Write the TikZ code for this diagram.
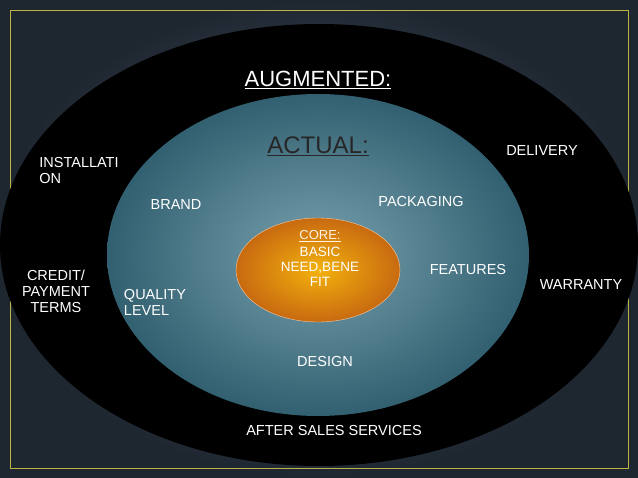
\documentclass[tikz,border=0pt]{standalone}
\usepackage{fontspec}
\setmainfont{Liberation Sans}
\usetikzlibrary{positioning}
\definecolor{slateBg}{RGB}{92, 108, 124}
\definecolor{slateDark}{RGB}{30, 38, 48}
\definecolor{frameGold}{RGB}{190, 180, 70}
\definecolor{tealMid}{RGB}{62, 120, 140}
\definecolor{coreOrange}{RGB}{235, 125, 20}

\begin{document}
\begin{tikzpicture}[
        x=1pt, y=-1pt,
        lbl/.style={text=white, font=\fontsize{14.5}{16}\selectfont, align=center},
        head/.style={text=black!85, font=\fontsize{22}{24}\selectfont}
    ]
        % Background
        \useasboundingbox (0,0) rectangle (638,478);
        \shade[inner color=slateBg, outer color=slateDark] (0,0) rectangle (638,478);
        \draw[frameGold, thick] (10,10) rectangle (628,468);
        
        % Layers
        \fill[black] (319,245) ellipse [x radius=319, y radius=221];
        \shade[inner color=tealMid!70!white, outer color=tealMid!80!black] (318,255) ellipse [x radius=211, y radius=161];
        \shade[inner color=coreOrange!60!yellow, outer color=coreOrange!85!black, draw=coreOrange!40!white] (318,270) ellipse [x radius=82, y radius=52];
        
        % Headings
        \node[head, text=white] (aug) at (318,80) {\underline{AUGMENTED:}};
        \node[head, font=\fontsize{24}{26}\selectfont] (act) at (318,146) {\underline{ACTUAL:}};
        \node[lbl, text=white!90!orange, font=\fontsize{13}{14}\selectfont] (core) at (320,236) {\underline{CORE:}};
        \node[lbl, font=\fontsize{13.5}{15}\selectfont, below=-2pt of core] (need) {BASIC\\NEED,BENE\\FIT};
        
        % Actual product
        \node[lbl] (brand) at (176,205) {BRAND};
        \node[lbl] (pack) at (421,202) {PACKAGING};
        \node[lbl] (feat) at (468,270) {FEATURES};
        \node[lbl, align=left] (qual) at (155,302) {QUALITY\\LEVEL};
        \node[lbl] (design) at (325,362) {DESIGN};
        
        % Augmented product
        \node[lbl, align=left] (inst) at (79,171) {INSTALLATI\\ON};
        \node[lbl] (deliv) at (542,151) {DELIVERY};
        \node[lbl] (credit) at (56,291) {CREDIT/\\PAYMENT\\TERMS};
        \node[lbl] (warr) at (581,285) {WARRANTY};
        \node[lbl] (after) at (334,431) {AFTER SALES SERVICES};
    \end{tikzpicture}
\end{document}
